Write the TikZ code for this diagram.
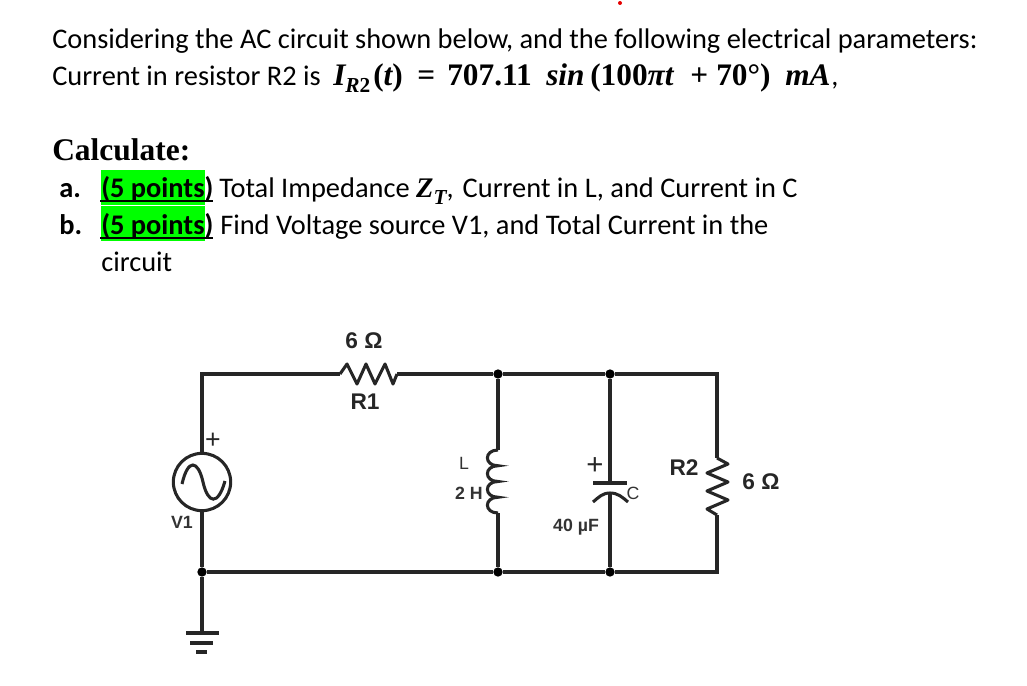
\documentclass[tikz,border=0pt]{standalone}
\usepackage{fontspec}
\usetikzlibrary{calc}
\setmainfont{Carlito}
\newfontfamily\serifbold[BoldFont={Liberation Serif Bold},ItalicFont={Liberation Serif Bold Italic}]{Liberation Serif Bold}
\newfontfamily\labelfont{Liberation Sans}
\tikzset{
  wire/.style={line width=2.3pt,black!85},
  junction/.style={circle,fill=black,inner sep=0pt,minimum size=7pt},
  bodytext/.style={anchor=base west,inner sep=0pt,font=\fontsize{21.3}{24}\selectfont},
  boldtext/.style={bodytext,font=\bfseries\fontsize{21.3}{24}\selectfont},
  eqnup/.style={anchor=base west,inner sep=0pt,font=\serifbold\bfseries\fontsize{23.5}{26}\selectfont},
  eqnit/.style={eqnup,font=\serifbold\bfseries\itshape\fontsize{23.5}{26}\selectfont},
  partlabel/.style={inner sep=0pt,font=\labelfont\bfseries\fontsize{17}{19}\selectfont,text=black!85},
  smalllabel/.style={inner sep=0pt,font=\labelfont\bfseries\fontsize{13.3}{15}\selectfont,text=black!80},
}
\begin{document}
\begin{tikzpicture}[x=0.75pt,y=-0.75pt]
\useasboundingbox (0,0) rectangle (1027,685);
\fill[red!90!black] (620,3) circle[radius=2];
% highlights
\fill[green] (101,170) rectangle (205,205);
\fill[green] (101,206) rectangle (205,241);
% question text
\node[bodytext] (line1) at (52,49) {Considering the AC circuit shown below, and the following electrical parameters:};
\node[bodytext] (line2) at (52,85) {Current in resistor R2 is};
\node[eqnit] (eqI) at (333,85) {I\raisebox{-0.25em}{\fontsize{16}{18}\selectfont R\upshape 2}};
\node[eqnup] (eqt) at (373,85) {(\itshape t\upshape)};
\node[eqnup] (eqeq) at (417,85) {=};
\node[eqnup] (eqnum) at (447,85) {707.11};
\node[eqnit] (eqsin) at (546,85) {sin};
\node[eqnup] (eqarg) at (590,85) {(100\itshape πt};
\node[eqnup] (eqplus) at (690,85) {+};
\node[eqnup] (eqdeg) at (716,85) {70°)};
\node[eqnit] (eqma) at (785,85) {mA};
\node[bodytext] (eqcomma) at (831,85) {,};
\node[anchor=base west,inner sep=0pt,font=\serifbold\bfseries\fontsize{23.6}{26}\selectfont] (calc) at (52,160) {Calculate:};
\node[boldtext] (itema) at (59,197) {a.};
\node[boldtext] (pointsa) at (101,197) {(5 points)};
\node[bodytext] (texta) at (219,197) {Total Impedance \serifbold\bfseries\itshape Z\raisebox{-0.25em}{\fontsize{16}{18}\selectfont T}\upshape\normalfont,\hspace{2pt} Current in L, and Current in C};
\node[boldtext] (itemb) at (59,234) {b.};
\node[boldtext] (pointsb) at (101,234) {(5 points)};
\node[bodytext] (textb) at (220,234) {Find Voltage source V1, and Total Current in the};
\node[bodytext] (textc) at (101,271) {circuit};
\draw[line width=1.2pt] (100,201) -- (213,201);
\draw[line width=1.2pt] (100,238) -- (213,238);
% circuit nodes
\coordinate (tl) at (202,374);
\coordinate (ra) at (340,374);
\coordinate (rb) at (397,374);
\node[junction] (jl) at (498,374) {};
\node[junction] (jc) at (610,374) {};
\coordinate (tr) at (717,374);
\coordinate (r2a) at (717,458);
\coordinate (r2b) at (717,515);
\coordinate (br) at (717,572);
\node[junction] (bc) at (610,572) {};
\node[junction] (bl) at (498,572) {};
\node[junction] (bv) at (202,572) {};
\node[circle,draw,line width=2.3pt,black!85,minimum size=43pt,inner sep=0pt] (V1) at (202,482) {};
\coordinate (lt) at (498,450);
\coordinate (lb) at (498,513);
\coordinate (cp) at (610,483);
\coordinate (cn) at (610,493);
\coordinate (gnd) at (202,633);
% wires
\draw[wire] (V1.north) -- (tl) -- (ra);
\draw[wire] (rb) -- (jl) -- (jc) -- (tr) -- (r2a);
\draw[wire] (r2b) -- (br) -- (bc) -- (bl) -- (bv);
\draw[wire] (V1.south) -- (bv) -- (gnd);
\draw[wire] (jl) -- (lt);
\draw[wire] (lb) -- (bl);
\draw[wire] (jc) -- (cp);
\draw[wire] (cn) -- (bc);
% resistors
\draw[wire,line join=round] (ra) -- ++(7,-10) -- ++(10,20) -- ++(9,-20) -- ++(9,20) -- ++(10,-20) -- ++(8,20) -- (rb);
\draw[wire,line join=round] (r2a) -- ++(11,6) -- ++(-21,9) -- ++(21,9) -- ++(-21,9) -- ++(21,9) -- ++(-21,9) -- (r2b);
% inductor
\draw[wire] (lt) to[out=180,in=180,looseness=2.3] ++(0,15.75) to[out=180,in=180,looseness=2.3] ++(0,15.75) to[out=180,in=180,looseness=2.3] ++(0,15.75) to[out=180,in=180,looseness=2.3] (lb);
% capacitor
\draw[wire] ($(cp)+(-17,0)$) -- ($(cp)+(17,0)$);
\draw[wire] (593,502) to[out=40,in=180] (cn) to[out=0,in=140] (628,502);
% ground
\draw[wire] (186,633) -- (219,633);
\draw[wire] (190,643) -- (213,643);
\draw[wire] (196,652) -- (207,652);
% source wave
\draw[wire] (182,484) .. controls (188,458) and (198,460) .. (203,482) .. controls (208,504) and (218,506) .. (225,481);
% labels
\node[partlabel] (r1val) at (364,341) {6 Ω};
\node[partlabel] (r1lbl) at (365,402) {R1};
\node[partlabel] (r2lbl) at (684,468) {R2};
\node[partlabel] (r2val) at (761,482) {6 Ω};
\node[smalllabel] (v1lbl) at (182,522) {V1};
\node[smalllabel,font=\labelfont\fontsize{13.3}{15}\selectfont] (llbl) at (464,463) {L};
\node[smalllabel] (lval) at (469,493) {2 H};
\node[smalllabel,font=\labelfont\fontsize{13.3}{15}\selectfont] (clbl) at (633,493) {C};
\node[smalllabel] (cval) at (576,527) {40 µF};
\node[partlabel,font=\labelfont\fontsize{22}{24}\selectfont] (cplus) at (595,466) {+};
\node[partlabel,font=\labelfont\fontsize{20}{22}\selectfont] (vplus) at (213,441) {+};
\end{tikzpicture}
\end{document}
